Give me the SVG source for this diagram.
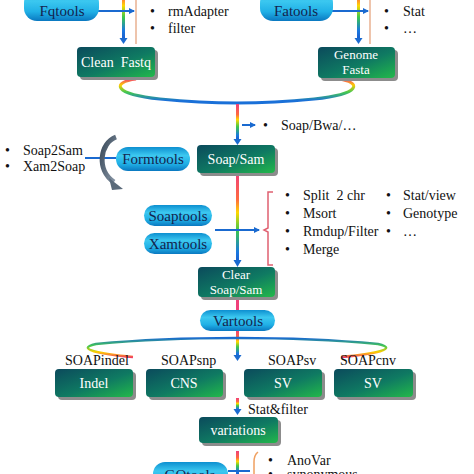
<svg xmlns="http://www.w3.org/2000/svg" width="474" height="474" viewBox="0 0 474 474">
<defs>
<linearGradient id="boxg" x1="0" y1="0" x2="1" y2="1">
<stop offset="0" stop-color="#0b4a5c"/>
<stop offset="0.55" stop-color="#0f7a62"/>
<stop offset="1" stop-color="#22b84a"/>
</linearGradient>
<linearGradient id="pillg" x1="0" y1="0" x2="0" y2="1">
<stop offset="0" stop-color="#0d8fd0"/>
<stop offset="0.35" stop-color="#3cc8f0"/>
<stop offset="0.7" stop-color="#20b0e6"/>
<stop offset="1" stop-color="#0a78c0"/>
</linearGradient>
<linearGradient id="rainV" x1="0" y1="0" x2="0" y2="1">
<stop offset="0" stop-color="#ff8a30"/>
<stop offset="0.15" stop-color="#ffd800"/>
<stop offset="0.45" stop-color="#3cc84a"/>
<stop offset="0.8" stop-color="#1a78e0"/>
<stop offset="1" stop-color="#1a60d0"/>
</linearGradient>
<linearGradient id="rainM" x1="0" y1="0" x2="0" y2="1">
<stop offset="0" stop-color="#f0407a"/>
<stop offset="0.3" stop-color="#ff6a40"/>
<stop offset="0.45" stop-color="#ffd800"/>
<stop offset="0.65" stop-color="#3cc84a"/>
<stop offset="0.9" stop-color="#1a78e0"/>
<stop offset="1" stop-color="#1a60d0"/>
</linearGradient>
<linearGradient id="curveTop" gradientUnits="userSpaceOnUse" x1="0" y1="79" x2="0" y2="103">
<stop offset="0" stop-color="#f03a78"/>
<stop offset="0.25" stop-color="#ffcc00"/>
<stop offset="0.55" stop-color="#44c850"/>
<stop offset="0.9" stop-color="#1a70d8"/>
</linearGradient>
<linearGradient id="curveMid" gradientUnits="userSpaceOnUse" x1="0" y1="358" x2="0" y2="338">
<stop offset="0" stop-color="#f0306a"/>
<stop offset="0.3" stop-color="#ffd000"/>
<stop offset="0.6" stop-color="#44c850"/>
<stop offset="1" stop-color="#1a6ad0"/>
</linearGradient>
<linearGradient id="grayArc" x1="0" y1="0" x2="1" y2="1">
<stop offset="0" stop-color="#3a4a5a"/>
<stop offset="1" stop-color="#8a98a8"/>
</linearGradient>
<marker id="ah" markerWidth="6" markerHeight="6" refX="5" refY="3" orient="auto" markerUnits="userSpaceOnUse">
<path d="M0,0 L6,3 L0,6 z" fill="#1a6ad0"/>
</marker>
</defs>
<style>
.box{fill:url(#boxg);}
.sh{fill:#8c8c8c;}
.pill{fill:url(#pillg);}
text{font-family:'Liberation Serif','Times New Roman','DejaVu Serif',serif;}
.bt{font-size:14px;fill:#ffffff;text-anchor:middle;}
.bt2{font-size:13px;fill:#ffffff;text-anchor:middle;}
.pt{font-size:15px;fill:#14244e;text-anchor:middle;}
.t{font-size:14px;fill:#111111;}
.bl{stroke:#1a6ad0;stroke-width:2;fill:none;}
.tan{stroke:#e8b090;stroke-width:1.5;fill:none;}
</style>
<rect width="474" height="474" fill="#ffffff"/>

<g id="connectors">
<rect x="122" y="0" width="3" height="38" fill="url(#rainV)"/>
<polygon points="119.5,38 127.5,38 123.5,44" fill="#1a6ad0"/>
<line class="tan" x1="136" y1="0" x2="136" y2="44"/>
<line class="bl" x1="98" y1="11" x2="134" y2="11" marker-end="url(#ah)"/>
<rect x="357" y="0" width="3" height="38" fill="url(#rainV)"/>
<polygon points="354.5,38 362.5,38 358.5,44" fill="#1a6ad0"/>
<line class="tan" x1="370" y1="0" x2="370" y2="44"/>
<line class="bl" x1="332" y1="11" x2="368" y2="11" marker-end="url(#ah)"/>
<path d="M 136 79 C 112 82 112 94 160 99 Q 200 103 237 103 Q 274 103 314 99 C 362 94 362 82 338 79" fill="none" stroke="url(#curveTop)" stroke-width="3"/>
<rect x="236" y="104" width="3" height="35" fill="url(#rainM)"/>
<polygon points="233.5,139 241.5,139 237.5,145" fill="#1a6ad0"/>
<line class="bl" x1="242" y1="125" x2="255" y2="125" marker-end="url(#ah)"/>
<line class="bl" x1="85" y1="158" x2="116" y2="158"/>
<path d="M 116 137 C 100 143 96 170 114 182" fill="none" stroke="url(#grayArc)" stroke-width="5"/>
<polygon points="109,178 123,189 112,190" fill="#5a6a7a"/>
<rect x="236" y="173" width="3" height="88" fill="url(#rainM)"/>
<polygon points="233.5,260 241.5,260 237.5,267" fill="#1a6ad0"/>
<line class="bl" x1="215" y1="230" x2="259" y2="230" marker-end="url(#ah)"/>
<path d="M 273 192 L 268 192 L 268 228 L 264 230 L 268 232 L 268 265 L 273 265" fill="none" stroke="#e06070" stroke-width="1.5"/>
<rect x="236" y="297" width="3" height="13" fill="#f0407a"/>
<rect x="236" y="330" width="3" height="26" fill="url(#rainM)"/>
<polygon points="233.5,355 241.5,355 237.5,361" fill="#1a6ad0"/>
<path d="M 133 357 C 100 354 74 349 96 344 Q 160 338 237 338 Q 314 338 378 344 C 400 349 374 354 341 357" fill="none" stroke="url(#curveMid)" stroke-width="2.5"/>
<rect x="236" y="398" width="3" height="12" fill="url(#rainM)"/>
<polygon points="233.5,409 241.5,409 237.5,415" fill="#1a6ad0"/>
<rect x="236" y="451" width="3" height="23" fill="url(#rainM)"/>
<path d="M 258 452 Q 254 455 254 462 L 254 474" fill="none" stroke="#f0a060" stroke-width="1.5"/>
<line class="bl" x1="228" y1="471" x2="250" y2="471"/>
</g>

<g id="fqtools">
<rect class="pill" x="24" y="-10" width="75" height="31" rx="13"/>
<text class="pt" x="62" y="16">Fqtools</text>
</g>
<g id="fq-list">
<text class="t" x="150" y="16">•</text><text class="t" x="168" y="16">rmAdapter</text>
<text class="t" x="150" y="33">•</text><text class="t" x="168" y="33">filter</text>
</g>
<g id="fatools">
<rect class="pill" x="260" y="-10" width="73" height="31" rx="13"/>
<text class="pt" x="296" y="16">Fatools</text>
</g>
<g id="fa-list">
<text class="t" x="384" y="16">•</text><text class="t" x="403" y="16">Stat</text>
<text class="t" x="384" y="33">•</text><text class="t" x="403" y="33">…</text>
</g>
<g id="clean-fastq">
<rect class="sh" x="80" y="50" width="78" height="30" rx="4"/>
<rect class="box" x="77" y="47" width="78" height="30" rx="4"/>
<text class="bt" x="116" y="67" xml:space="preserve">Clean  Fastq</text>
</g>
<g id="genome-fasta">
<rect class="sh" x="321" y="50" width="77" height="31" rx="4"/>
<rect class="box" x="318" y="47" width="77" height="31" rx="4"/>
<text class="bt2" x="356" y="59">Genome</text>
<text class="bt2" x="356" y="74">Fasta</text>
</g>
<g id="aligner-list">
<text class="t" x="263" y="130">•</text><text class="t" x="281" y="130">Soap/Bwa/…</text>
</g>
<g id="soap-sam">
<rect class="sh" x="200" y="148" width="78" height="28" rx="4"/>
<rect class="box" x="197" y="145" width="78" height="28" rx="4"/>
<text class="bt" x="236" y="164">Soap/Sam</text>
</g>
<g id="formtools">
<rect class="pill" x="116" y="147" width="74" height="24" rx="12"/>
<text class="pt" x="153" y="164">Formtools</text>
</g>
<g id="form-list">
<text class="t" x="5" y="155">•</text><text class="t" x="23" y="155">Soap2Sam</text>
<text class="t" x="5" y="171">•</text><text class="t" x="23" y="171">Xam2Soap</text>
</g>
<g id="soaptools">
<rect class="pill" x="144" y="205" width="68" height="21" rx="10.5"/>
<text class="pt" x="178" y="221">Soaptools</text>
</g>
<g id="xamtools">
<rect class="pill" x="144" y="233" width="68" height="21" rx="10.5"/>
<text class="pt" x="178" y="249">Xamtools</text>
</g>
<g id="soap-list">
<text class="t" x="285" y="200">•</text><text class="t" x="303" y="200" xml:space="preserve">Split  2 chr</text>
<text class="t" x="285" y="218">•</text><text class="t" x="303" y="218">Msort</text>
<text class="t" x="285" y="236">•</text><text class="t" x="303" y="236">Rmdup/Filter</text>
<text class="t" x="285" y="254">•</text><text class="t" x="303" y="254">Merge</text>
<text class="t" x="386" y="200">•</text><text class="t" x="403" y="200">Stat/view</text>
<text class="t" x="386" y="218">•</text><text class="t" x="403" y="218">Genotype</text>
<text class="t" x="386" y="236">•</text><text class="t" x="403" y="236">…</text>
</g>
<g id="clear-soap-sam">
<rect class="sh" x="201" y="270" width="77" height="30" rx="4"/>
<rect class="box" x="198" y="267" width="77" height="30" rx="4"/>
<text class="bt2" x="236" y="279">Clear</text>
<text class="bt2" x="236" y="294">Soap/Sam</text>
</g>
<g id="vartools">
<rect class="pill" x="200" y="310" width="75" height="21" rx="10.5"/>
<text class="pt" x="238" y="326">Vartools</text>
</g>
<g id="tool-labels">
<text class="t" x="65" y="365">SOAPindel</text>
<text class="t" x="161" y="365">SOAPsnp</text>
<text class="t" x="268" y="365">SOAPsv</text>
<text class="t" x="340" y="365">SOAPcnv</text>
</g>
<g id="indel">
<rect class="sh" x="58" y="372" width="78" height="28" rx="4"/>
<rect class="box" x="55" y="369" width="78" height="28" rx="4"/>
<text class="bt" x="94" y="388">Indel</text>
</g>
<g id="cns">
<rect class="sh" x="149" y="372" width="77" height="28" rx="4"/>
<rect class="box" x="146" y="369" width="77" height="28" rx="4"/>
<text class="bt" x="184" y="388">CNS</text>
</g>
<g id="sv1">
<rect class="sh" x="247" y="372" width="78" height="28" rx="4"/>
<rect class="box" x="244" y="369" width="78" height="28" rx="4"/>
<text class="bt" x="283" y="388">SV</text>
</g>
<g id="sv2">
<rect class="sh" x="337" y="372" width="79" height="28" rx="4"/>
<rect class="box" x="334" y="369" width="79" height="28" rx="4"/>
<text class="bt" x="373" y="388">SV</text>
</g>
<g id="stat-filter">
<text class="t" x="248" y="414">Stat&amp;filter</text>
</g>
<g id="variations">
<rect class="sh" x="202" y="420" width="79" height="26" rx="4"/>
<rect class="box" x="199" y="417" width="79" height="26" rx="4"/>
<text class="bt" x="238" y="435">variations</text>
</g>
<g id="anno-list">
<text class="t" x="268" y="465">•</text><text class="t" x="287" y="465">AnoVar</text>
<text class="t" x="268" y="479">•</text><text class="t" x="287" y="479">synonymous</text>
</g>
<g id="bottom-tool">
<rect class="pill" x="153" y="462" width="75" height="26" rx="12"/>
<text class="pt" x="190" y="480">GOtools</text>
</g>
</svg>
